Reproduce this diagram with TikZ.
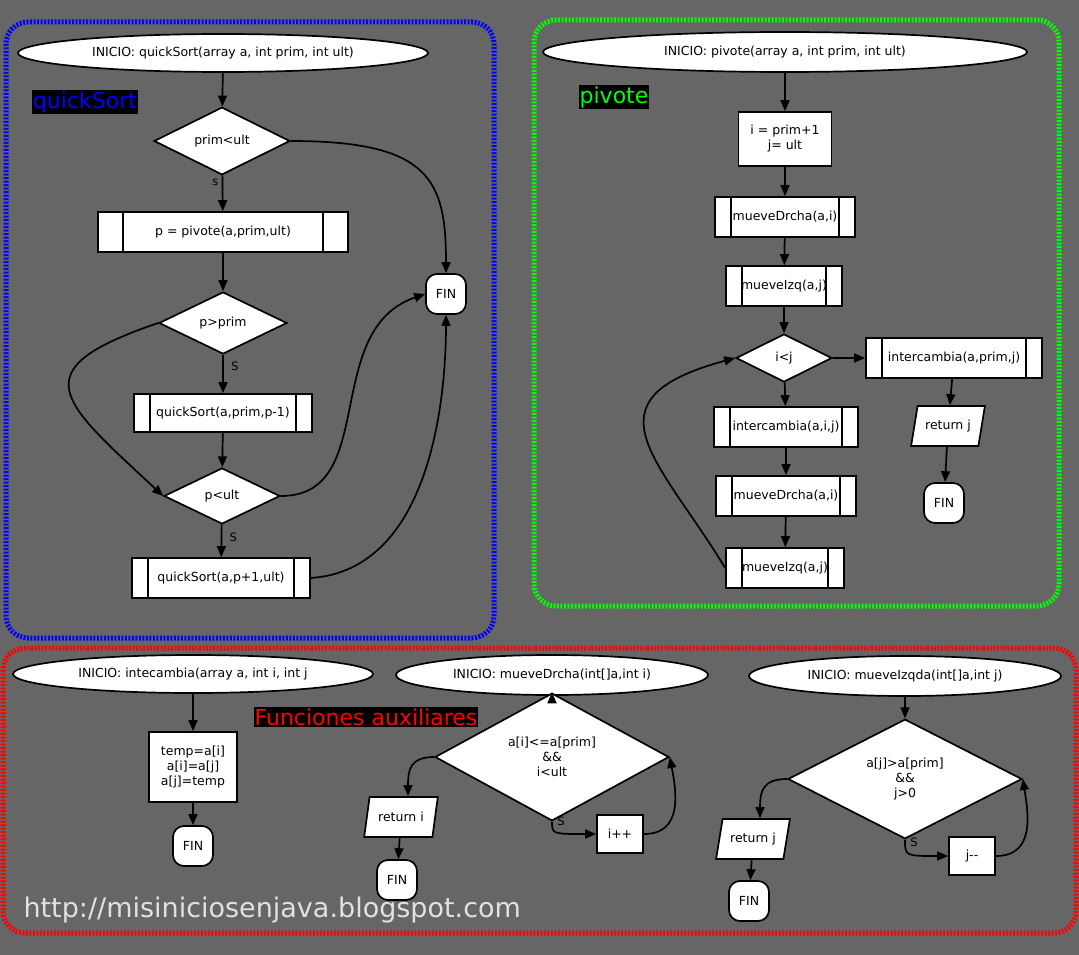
\documentclass[tikz,border=0pt]{standalone}
\usepackage{fontspec}
\setmainfont{DejaVu Sans}
\usetikzlibrary{positioning,shapes.geometric,shapes.misc,arrows.meta}
\tikzset{>={Triangle[length=11pt,width=9pt]}}
\tikzstyle{base}=[draw=black, fill=white, line width=1.7pt, text=black, font=\fontsize{12.5}{15}\selectfont, align=center, inner sep=0pt]
\tikzstyle{start}=[base, ellipse]
\tikzstyle{decision}=[base, diamond]
\tikzstyle{process}=[base, rectangle]
\tikzstyle{fin}=[base, rectangle, rounded corners=11pt, minimum width=40pt, minimum height=40pt]
\tikzstyle{io}=[base, trapezium, trapezium left angle=68, trapezium right angle=112, trapezium stretches=true]
\tikzstyle{sub}=[base, rectangle, path picture={
    \draw[line width=1.7pt] ([xshift=\subgap]path picture bounding box.north west) -- ([xshift=\subgap]path picture bounding box.south west);
    \draw[line width=1.7pt] ([xshift=-\subgap]path picture bounding box.north east) -- ([xshift=-\subgap]path picture bounding box.south east);}]
\tikzstyle{frame}=[line width=5pt, dash pattern=on 2pt off 1.5pt, rounded corners=22pt]
\tikzstyle{title}=[fill=black, inner sep=1pt, font=\fontsize{22}{26}\selectfont]
\tikzstyle{lbl}=[text=black, font=\fontsize{11.5}{13}\selectfont]
\tikzstyle{flow}=[->, line width=1.7pt]
\newcommand{\subgap}{16pt}
\begin{document}
\begin{tikzpicture}[x=1pt, y=-1pt]
    \useasboundingbox[fill={rgb,255:red,102;green,102;blue,102}] (0,0) rectangle (1079,955);

    % marcos
    \draw[frame, blue] (6,22) rectangle (494,638);
    \draw[frame, green] (534,20) rectangle (1059,606);
    \draw[frame, red] (3,648) rectangle (1076,933);

    % quickSort
    \node (qsStart)[start, minimum width=410pt, minimum height=38pt] at (223,53) {INICIO: quickSort(array a, int prim, int ult)};
    \node (qsTitle)[title, text=blue] at (85,102) {quickSort};
    \node (qsIf1)[decision, minimum width=136pt, minimum height=66pt] at (222,141) {prim<ult};
    \node (qsPiv)[sub, minimum width=250pt, minimum height=40pt, path picture={
        \draw[line width=1.7pt] ([xshift=25pt]path picture bounding box.north west) -- ([xshift=25pt]path picture bounding box.south west);
        \draw[line width=1.7pt] ([xshift=-25pt]path picture bounding box.north east) -- ([xshift=-25pt]path picture bounding box.south east);}] at (223,232) {p = pivote(a,prim,ult)};
    \node (qsIf2)[decision, minimum width=128pt, minimum height=62pt] at (223,323) {p>prim};
    \node (qsRec1)[sub, minimum width=178pt, minimum height=38pt] at (223,413) {quickSort(a,prim,p-1)};
    \node (qsIf3)[decision, minimum width=116pt, minimum height=56pt] at (222,496) {p<ult};
    \node (qsRec2)[sub, minimum width=178pt, minimum height=40pt] at (221,578) {quickSort(a,p+1,ult)};
    \node (qsFin)[fin] at (446,294) {FIN};

    \draw[flow] (qsStart) -- (qsIf1);
    \draw[flow] (qsIf1) -- node[lbl, pos=0.2, left] {s} (qsPiv);
    \draw[flow] (qsIf1.east) .. controls (430,141) and (446,180) .. (qsFin.north);
    \draw[flow] (qsPiv) -- (qsIf2);
    \draw[flow] (qsIf2) -- node[lbl, pos=0.3, right=4pt] {S} (qsRec1);
    \draw[flow] (qsIf2.west) .. controls (20,370) and (60,400) .. (qsIf3.west);
    \draw[flow] (qsRec1) -- (qsIf3);
    \draw[flow] (qsIf3) -- node[lbl, pos=0.4, right=4pt] {S} (qsRec2);
    \draw[flow] (qsIf3.east) .. controls (380,496) and (320,330) .. (qsFin.west);
    \draw[flow] (qsRec2.east) .. controls (430,570) and (446,400) .. (qsFin.south);

    % pivote
    \node (pvStart)[start, minimum width=484pt, minimum height=40pt] at (785,52) {INICIO: pivote(array a, int prim, int ult)};
    \node (pvTitle)[title, text=green] at (614,97) {pivote};
    \node (pvInit)[process, minimum width=93pt, minimum height=54pt] at (785,139) {i = prim+1\\j= ult};
    \node (pvDer1)[sub, minimum width=140pt, minimum height=40pt] at (785,217) {mueveDrcha(a,i)};
    \node (pvIzq1)[sub, minimum width=116pt, minimum height=40pt] at (784,286) {mueveIzq(a,j)};
    \node (pvIf)[decision, minimum width=96pt, minimum height=48pt] at (784,358) {i<j};
    \node (pvSwapEnd)[sub, minimum width=176pt, minimum height=40pt] at (954,358) {intercambia(a,prim,j)};
    \node (pvRet)[io, minimum width=74pt, minimum height=40pt] at (948,426) {return j};
    \node (pvFin)[fin] at (944,503) {FIN};
    \node (pvSwap)[sub, minimum width=144pt, minimum height=40pt] at (786,427) {intercambia(a,i,j)};
    \node (pvDer2)[sub, minimum width=140pt, minimum height=40pt] at (786,496) {mueveDrcha(a,i)};
    \node (pvIzq2)[sub, minimum width=118pt, minimum height=40pt] at (785,568) {mueveIzq(a,j)};

    \draw[flow] (pvStart) -- (pvInit);
    \draw[flow] (pvInit) -- (pvDer1);
    \draw[flow] (pvDer1) -- (pvIzq1);
    \draw[flow] (pvIzq1) -- (pvIf);
    \draw[flow] (pvIf) -- (pvSwapEnd);
    \draw[flow] (pvSwapEnd) -- (pvRet);
    \draw[flow] (pvRet) -- (pvFin);
    \draw[flow] (pvIf) -- (pvSwap);
    \draw[flow] (pvSwap) -- (pvDer2);
    \draw[flow] (pvDer2) -- (pvIzq2);
    \draw[flow] (pvIzq2.west) .. controls (660,460) and (580,400) .. (pvIf.west);

    % funciones auxiliares
    \node (auxTitle)[title, text=red] at (366,717) {Funciones auxiliares};
    \node (icStart)[start, minimum width=360pt, minimum height=38pt] at (193,674) {INICIO: intecambia(array a, int i, int j};
    \node (icBody)[process, minimum width=88pt, minimum height=70pt] at (193,767) {temp=a[i]\\a[i]=a[j]\\a[j]=temp};
    \node (icFin)[fin] at (193,846) {FIN};
    \draw[flow] (icStart) -- (icBody);
    \draw[flow] (icBody) -- (icFin);

    \node (mdStart)[start, minimum width=312pt, minimum height=40pt] at (552,675) {INICIO: mueveDrcha(int[]a,int i)};
    \node (mdIf)[decision, minimum width=234pt, minimum height=116pt] at (552,757) {a[i]<=a[prim]\\\&\&\\i<ult};
    \node (mdRet)[io, minimum width=74pt, minimum height=40pt] at (401,817) {return i};
    \node (mdFin)[fin] at (397,880) {FIN};
    \node (mdInc)[process, minimum width=46pt, minimum height=38pt] at (620,834) {i++};
    \draw[flow] (mdStart) -- (mdIf);
    \draw[flow] (mdIf.west) .. controls (410,757) and (408,770) .. (mdRet.north -| 408,0);
    \draw[flow] (mdRet) -- (mdFin);
    \draw[flow] (mdIf.south) .. controls (552,834) .. node[lbl, pos=0.3, above right] {S} (mdInc.west);
    \draw[flow] (mdInc.east) .. controls (684,834) and (676,790) .. (mdIf.east);

    \node (miStart)[start, minimum width=312pt, minimum height=40pt] at (905,676) {INICIO: mueveIzqda(int[]a,int j)};
    \node (miIf)[decision, minimum width=234pt, minimum height=116pt] at (905,779) {a[j]>a[prim]\\\&\&\\j>0};
    \node (miRet)[io, minimum width=74pt, minimum height=40pt] at (753,839) {return j};
    \node (miFin)[fin] at (749,901) {FIN};
    \node (miDec)[process, minimum width=46pt, minimum height=38pt] at (972,856) {j{-}{-}};
    \draw[flow] (miStart) -- (miIf);
    \draw[flow] (miIf.west) .. controls (762,779) and (760,792) .. (miRet.north -| 760,0);
    \draw[flow] (miRet) -- (miFin);
    \draw[flow] (miIf.south) .. controls (905,856) .. node[lbl, pos=0.3, above right] {S} (miDec.west);
    \draw[flow] (miDec.east) .. controls (1036,856) and (1028,812) .. (miIf.east);

    \node (url)[anchor=west, text={rgb,255:red,225;green,225;blue,225}, font=\fontsize{27}{30}\selectfont] at (20,910) {http://misiniciosenjava.blogspot.com};
\end{tikzpicture}
\end{document}
